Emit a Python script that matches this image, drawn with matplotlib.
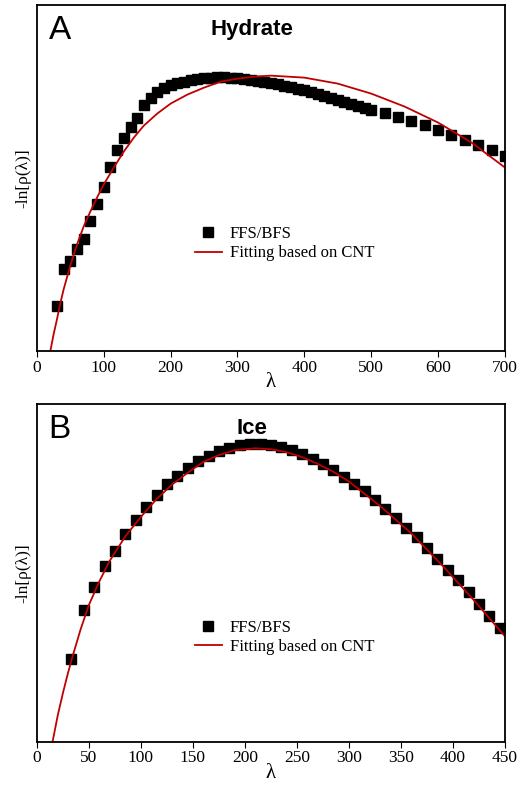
import matplotlib
matplotlib.use('Agg')
import matplotlib.pyplot as plt

# Panel A (Hydrate): data points and CNT fit, y in arbitrary units
hyd_x = [30, 40, 50, 60, 70, 80, 90, 100, 110, 120, 130, 140, 150, 160, 170, 180, 190, 200,
         210, 220, 230, 240, 250, 260, 270, 280, 290, 300, 310, 320, 330, 340, 350, 360, 370,
         380, 390, 400, 410, 420, 430, 440, 450, 460, 470, 480, 490, 500, 520, 540, 560, 580,
         600, 620, 640, 660, 680, 700]
hyd_y = [45, 82, 90, 102, 112, 130, 147, 164, 184, 202, 214, 225, 234, 247, 254, 260, 264, 267,
         269, 270, 272, 273, 274, 274, 275, 275, 274, 274, 273, 272, 271, 270, 269, 268, 266,
         265, 263, 262, 260, 258, 256, 254, 252, 250, 248, 246, 244, 242, 239, 235, 231, 227,
         222, 217, 212, 207, 202, 196]
hyd_fit_x = [20, 25, 30, 35, 40, 50, 60, 70, 80, 90, 100, 115, 130, 145, 160, 180, 200, 225,
             250, 275, 300, 325, 350, 375, 400, 450, 500, 550, 600, 650, 700]
hyd_fit_y = [0, 17, 32, 48, 62, 86, 107, 125, 140, 154, 167, 184, 200, 214, 226, 238, 248, 257,
             264, 270, 273, 275, 276, 275, 274, 268, 258, 245, 229, 209, 184]

# Panel B (Ice)
ice_x = [33, 45, 55, 65, 75, 85, 95, 105, 115, 125, 135, 145, 155, 165, 175, 185, 195, 205,
         215, 225, 235, 245, 255, 265, 275, 285, 295, 305, 315, 325, 335, 345, 355, 365, 375,
         385, 395, 405, 415, 425, 435, 445]
ice_y = [85, 135, 158, 180, 195, 212, 227, 240, 252, 263, 272, 280, 287, 292, 297, 300, 303, 304,
         304, 303, 301, 298, 294, 289, 284, 278, 271, 264, 256, 247, 238, 229, 219, 209, 198,
         187, 176, 165, 153, 141, 129, 116]
ice_fit_x = [15, 20, 25, 30, 35, 42, 50, 60, 70, 85, 100, 115, 130, 145, 160, 175, 190, 210,
             225, 240, 255, 270, 285, 300, 330, 360, 390, 420, 450]
ice_fit_y = [0, 27, 50, 71, 90, 115, 140, 164, 185, 210, 230, 248, 263, 275, 286, 293, 298, 300,
             299, 296, 291, 284, 276, 266, 241, 213, 180, 145, 108]

serif = 'Liberation Serif'
sans = 'Liberation Sans'

fig = plt.figure(figsize=(5.2, 7.91), dpi=100)
panels = [
    ([0.071, 0.556, 0.9, 0.438], hyd_x, hyd_y, hyd_fit_x, hyd_fit_y, 'A', 'Hydrate', 700, 100, 347),
    ([0.071, 0.062, 0.9, 0.427], ice_x, ice_y, ice_fit_x, ice_fit_y, 'B', 'Ice', 450, 50, 345),
]
for rect, x, y, fx, fy, letter, title, xmax, step, ymax in panels:
    ax = fig.add_axes(rect)
    ax.plot(x, y, 's', color='black', markersize=6.5, label='FFS/BFS')
    ax.plot(fx, fy, '-', color='#c00000', linewidth=1.3, label='Fitting based on CNT')
    ax.set_xlim(0, xmax)
    ax.set_ylim(0, ymax)
    ax.set_xticks(range(0, xmax + 1, step))
    ax.set_xticklabels([str(v) for v in range(0, xmax + 1, step)], fontfamily=serif, fontsize=12.5)
    ax.set_yticks([])
    ax.tick_params(axis='x', direction='out', length=4, pad=2)
    ax.set_xlabel('λ', fontfamily=serif, fontsize=15, labelpad=-2)
    ax.set_ylabel('-ln[ρ(λ)]', fontfamily=serif, fontsize=12.5, labelpad=4)
    for s in ax.spines.values():
        s.set_linewidth(1.3)
    ax.text(0.025, 0.97, letter, transform=ax.transAxes, fontfamily=sans, fontsize=24,
            va='top', ha='left')
    ax.text(0.46, 0.96, title, transform=ax.transAxes, fontfamily=sans, fontsize=16,
            fontweight='bold', va='top', ha='center')
    ax.legend(loc='center left', bbox_to_anchor=(0.32, 0.31), frameon=False,
              prop={'family': serif, 'size': 12}, handlelength=1.6, handletextpad=0.5,
              labelspacing=0.2, borderpad=0)

fig.savefig('out.png', dpi=100)
